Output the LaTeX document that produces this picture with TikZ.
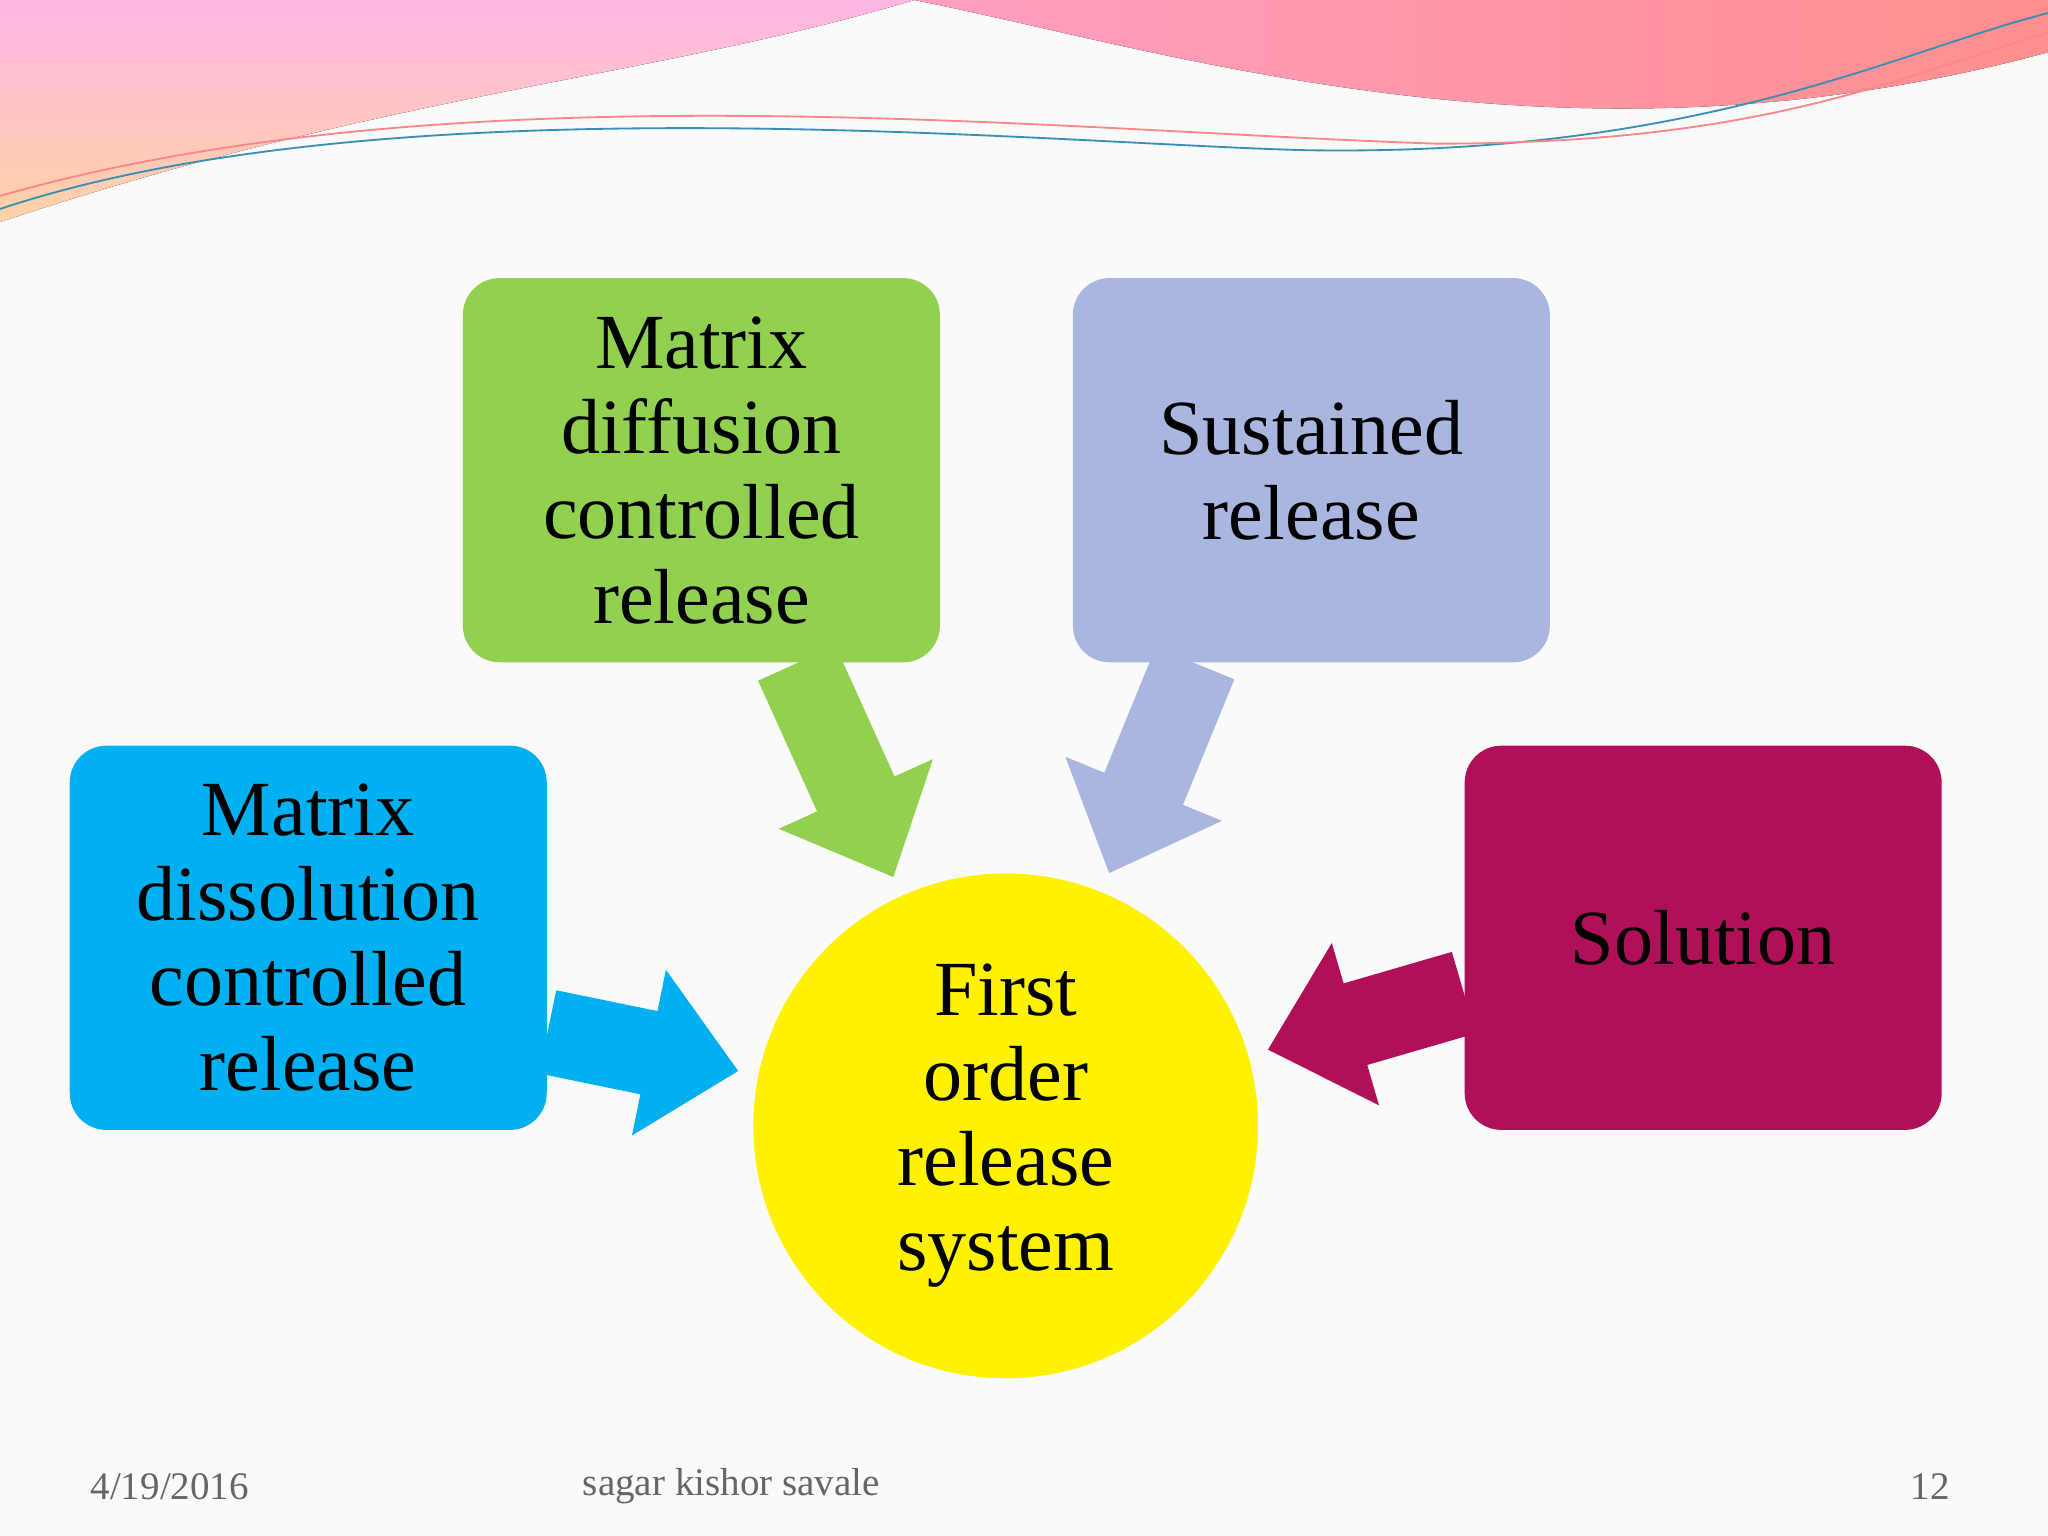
\documentclass[tikz,border=0pt]{standalone}
\usepackage{fontspec}
\setmainfont{Liberation Serif}
\usetikzlibrary{arrows.meta}

\definecolor{matgreen}{HTML}{92D050}
\definecolor{matlav}{HTML}{A9B7E0}
\definecolor{matblue}{HTML}{00B0F0}
\definecolor{matmag}{HTML}{B0105A}

\begin{document}
\begin{tikzpicture}[x=0.01cm,y=-0.01cm]
\tikzstyle{box}=[rounded corners=8pt, minimum width=3.65cm, minimum height=2.94cm, align=center, font=\fontsize{17}{18.5}\selectfont, inner sep=2pt]
\tikzstyle{blockarrow}=[line width=0.65cm, shorten >=0.15cm, -{Triangle[width=1.25cm,length=0.7cm]}]
\tikzstyle{footer}=[text=black!60, font=\fontsize{8.5}{10}\selectfont]

% Background and top waves
\useasboundingbox (0,0) rectangle (1568,1176);
\fill[black!2] (0,0) rectangle (1568,1176);
\fill[left color=magenta!40!pink!60, right color=red!40!pink!80] (0,0) -- (1568,0) -- (1568,40) .. controls (1200,140) and (900,40) .. (700,0) -- cycle;
\fill[top color=magenta!30!pink!60, bottom color=orange!35] (0,0) -- (700,0) .. controls (500,60) and (300,70) .. (0,170) -- cycle;
\draw[cyan!70!black, thin] (0,160) .. controls (300,60) and (800,110) .. (1000,115) .. controls (1300,120) and (1450,40) .. (1568,10);
\draw[pink!70!red, thin] (0,150) .. controls (350,50) and (800,100) .. (1100,110) .. controls (1350,110) and (1450,60) .. (1568,25);

% Boxes
\node[box, fill=matgreen] (diffusion) at (537,360) {Matrix\\diffusion\\controlled\\release};
\node[box, fill=matlav] (sustained) at (1004,360) {Sustained\\release};
\node[box, fill=matblue] (dissolution) at (236,718) {Matrix\\dissolution\\controlled\\release};
\node[box, fill=matmag] (solution) at (1304,718) {Solution};
\node[circle, fill=yellow, minimum size=3.86cm, align=center, font=\fontsize{17}{18.5}\selectfont] (system) at (770,862) {First\\order\\release\\system};

% Arrows
\draw[blockarrow, matgreen] ([xshift=0.73cm]diffusion.south) -- (system);
\draw[blockarrow, matlav] ([xshift=-0.89cm]sustained.south) -- (system);
\draw[blockarrow, matblue] ([yshift=-0.72cm]dissolution.east) -- (system);
\draw[blockarrow, matmag] ([yshift=-0.42cm]solution.west) -- (system);
\node[circle, fill=yellow, minimum size=3.86cm, align=center, font=\fontsize{17}{18.5}\selectfont] at (system) {First\\order\\release\\system};

% Footer
\node[footer] (date) at (130,1138) {4/19/2016};
\node[footer] (author) at (560,1138) {sagar kishor savale};
\node[footer] (page) at (1478,1138) {12};
\end{tikzpicture}
\end{document}
